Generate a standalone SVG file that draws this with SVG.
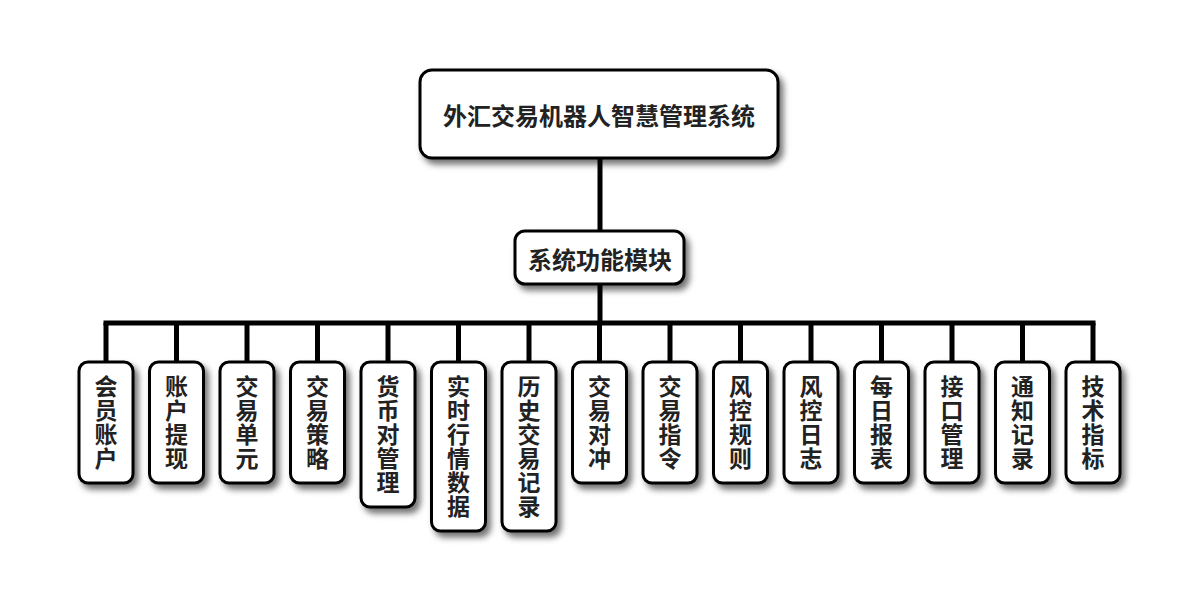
<svg xmlns="http://www.w3.org/2000/svg" width="1198" height="607" viewBox="0 0 1198 607">
<defs>
<filter id="sh" x="-30%" y="-30%" width="160%" height="160%">
<feDropShadow dx="4" dy="5" stdDeviation="3" flood-color="#000" flood-opacity="0.55"/>
</filter>
<style>
.box{fill:#fff;stroke:#000;stroke-width:3;filter:url(#sh)}
.t{font-family:"Noto Sans CJK SC","Noto Sans",sans-serif;font-weight:bold;fill:#222;text-anchor:middle}
.big{font-size:24px;dominant-baseline:central}
.leaf{font-size:23px;writing-mode:vertical-rl;text-orientation:upright;letter-spacing:1px}
.ln{stroke:#000;stroke-width:5;fill:none}
</style>
</defs>
<rect width="1198" height="607" fill="#fff"/>
<g id="connectors">
<line class="ln" x1="600" y1="158" x2="600" y2="231"/>
<line class="ln" x1="600" y1="284" x2="600" y2="323"/>
<line class="ln" x1="103.5" y1="323" x2="1095.5" y2="323"/>
<path class="ln" d="M106 323V362M176.5 323V362M247 323V362M317.5 323V362M388 323V362M458.5 323V362M529 323V362M599.5 323V362M670 323V362M740.5 323V362M811 323V362M881.5 323V362M952 323V362M1022.5 323V362M1093 323V362"/>
</g>
<g id="root">
<rect class="box" x="420" y="70" width="358" height="88" rx="12"/>
<text class="t big" x="599" y="114">外汇交易机器人智慧管理系统</text>
</g>
<g id="modules">
<rect class="box" x="515" y="231" width="169" height="53" rx="10"/>
<text class="t big" x="600" y="258">系统功能模块</text>
</g>
<g id="n1"><rect class="box" x="79" y="362" width="54" height="121" rx="9"/><text class="t leaf" x="106" y="422.5">会员账户</text></g>
<g id="n2"><rect class="box" x="149.5" y="362" width="54" height="121" rx="9"/><text class="t leaf" x="176.5" y="422.5">账户提现</text></g>
<g id="n3"><rect class="box" x="220" y="362" width="54" height="121" rx="9"/><text class="t leaf" x="247" y="422.5">交易单元</text></g>
<g id="n4"><rect class="box" x="290.5" y="362" width="54" height="121" rx="9"/><text class="t leaf" x="317.5" y="422.5">交易策略</text></g>
<g id="n5"><rect class="box" x="361" y="362" width="54" height="145" rx="9"/><text class="t leaf" x="388" y="434.5">货币对管理</text></g>
<g id="n6"><rect class="box" x="431.5" y="362" width="54" height="169" rx="9"/><text class="t leaf" x="458.5" y="446.5">实时行情数据</text></g>
<g id="n7"><rect class="box" x="502" y="362" width="54" height="169" rx="9"/><text class="t leaf" x="529" y="446.5">历史交易记录</text></g>
<g id="n8"><rect class="box" x="572.5" y="362" width="54" height="121" rx="9"/><text class="t leaf" x="599.5" y="422.5">交易对冲</text></g>
<g id="n9"><rect class="box" x="643" y="362" width="54" height="121" rx="9"/><text class="t leaf" x="670" y="422.5">交易指令</text></g>
<g id="n10"><rect class="box" x="713.5" y="362" width="54" height="121" rx="9"/><text class="t leaf" x="740.5" y="422.5">风控规则</text></g>
<g id="n11"><rect class="box" x="784" y="362" width="54" height="121" rx="9"/><text class="t leaf" x="811" y="422.5">风控日志</text></g>
<g id="n12"><rect class="box" x="854.5" y="362" width="54" height="121" rx="9"/><text class="t leaf" x="881.5" y="422.5">每日报表</text></g>
<g id="n13"><rect class="box" x="925" y="362" width="54" height="121" rx="9"/><text class="t leaf" x="952" y="422.5">接口管理</text></g>
<g id="n14"><rect class="box" x="995.5" y="362" width="54" height="121" rx="9"/><text class="t leaf" x="1022.5" y="422.5">通知记录</text></g>
<g id="n15"><rect class="box" x="1066" y="362" width="54" height="121" rx="9"/><text class="t leaf" x="1093" y="422.5">技术指标</text></g>
</svg>
